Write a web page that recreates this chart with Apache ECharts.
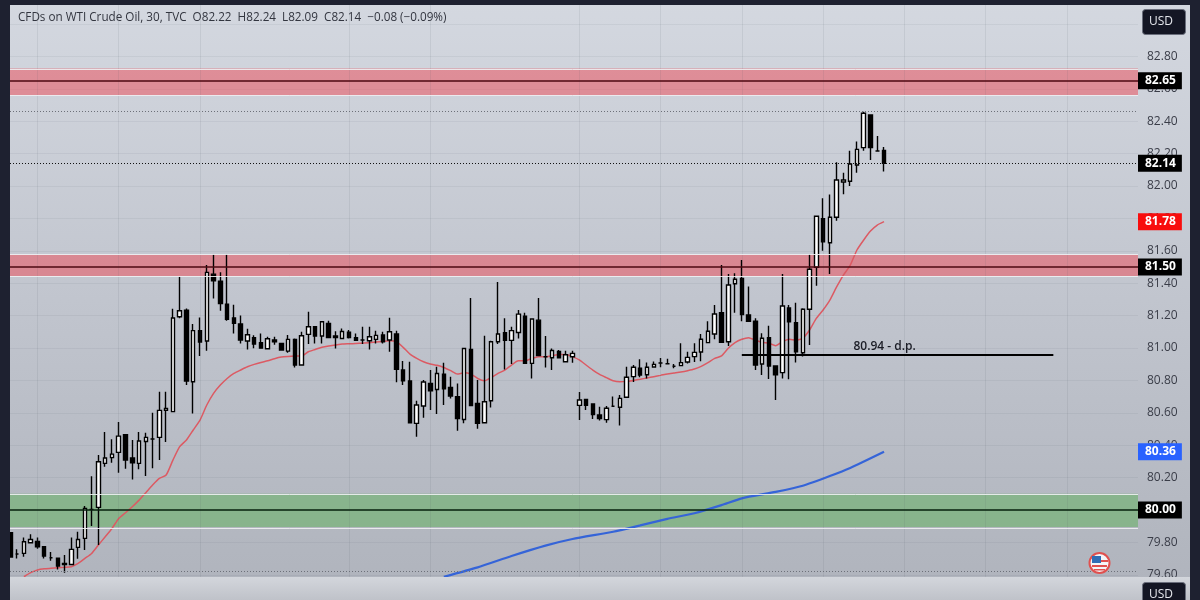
<!DOCTYPE html>
<html><head><meta charset="utf-8">
<style>html,body{margin:0;padding:0;background:#1e2130}#c{width:1200px;height:600px}</style>
<script src="https://cdn.jsdelivr.net/npm/echarts@6/dist/echarts.min.js"></script>
</head><body><div id="c"></div>
<script>
const headerText = 'CFDs on WTI Crude Oil, 30, TVC  O82.22  H82.24  L82.09  C82.14  −0.08 (−0.09%)';
const opens = [79.86,79.728,79.732,79.798,79.806,79.773,79.705,79.703,79.670,79.664,
79.769,79.825,80.004,80.016,80.288,80.323,80.356,80.465,80.321,80.288,
80.423,80.438,80.448,80.615,80.607,81.193,81.234,80.792,81.107,81.043,
81.456,81.413,81.271,81.185,81.148,81.043,81.063,81.032,80.995,81.049,
81.028,80.981,81.053,80.895,81.084,81.131,81.074,81.152,81.074,81.059,
81.098,81.063,81.049,81.045,81.053,81.080,81.049,81.086,80.864,80.796,
80.535,80.642,80.781,80.744,80.839,80.757,80.699,80.559,80.991,80.658,
80.539,80.674,81.039,81.094,81.047,81.096,81.197,80.905,81.172,80.946,
80.940,80.979,80.915,80.946,80.646,80.683,80.654,80.586,80.558,80.640,
80.634,80.696,80.823,80.875,80.835,80.883,80.907,80.903,80.887,80.891,
80.914,80.947,80.975,81.033,81.086,81.218,81.039,81.397,81.430,81.204,
81.165,80.901,81.064,80.889,80.848,81.247,81.156,80.971,81.239,81.498,
81.798,81.650,81.807,82.025,82.029,82.130,82.237,82.438,82.216,82.22];
const closes = [79.71,79.728,79.804,79.818,79.773,79.716,79.705,79.654,79.664,79.757,
79.818,80.010,80.004,80.298,80.321,80.345,80.456,80.308,80.292,80.426,
80.448,80.438,80.615,80.627,81.185,81.230,80.796,81.107,81.037,81.467,
81.415,81.275,81.177,81.152,81.049,81.082,81.024,80.999,81.057,81.039,
80.987,81.053,80.895,81.076,81.131,81.074,81.162,81.065,81.065,81.102,
81.065,81.047,81.049,81.069,81.078,81.039,81.100,80.868,80.798,80.539,
80.648,80.790,80.736,80.843,80.748,80.703,80.565,80.997,80.644,80.535,
80.668,81.039,81.086,81.047,81.107,81.209,80.905,81.179,80.954,80.946,
80.985,80.940,80.958,80.967,80.679,80.646,80.589,80.564,80.628,80.640,
80.689,80.819,80.881,80.833,80.881,80.899,80.907,80.903,80.887,80.910,
80.942,80.973,81.054,81.103,81.210,81.035,81.389,81.424,81.206,81.165,
80.895,81.060,80.889,80.835,81.259,81.161,80.977,81.239,81.486,81.813,
81.656,81.807,82.037,82.037,82.136,82.226,82.449,82.237,82.216,82.14];
const lows = [79.71,79.701,79.712,79.794,79.761,79.701,79.687,79.633,79.613,79.662,
79.699,79.753,79.901,79.784,80.267,80.292,80.230,80.255,80.189,80.251,
80.210,80.257,80.308,80.419,80.605,81.183,80.771,80.596,80.950,80.983,
81.306,81.230,81.168,81.090,81.028,80.991,80.998,80.995,80.991,81.020,
80.983,80.971,80.880,80.893,81.024,81.028,81.028,81.065,80.997,81.055,
81.059,81.043,81.024,80.991,81.028,81.028,80.977,80.788,80.771,80.539,
80.452,80.569,80.617,80.592,80.648,80.689,80.489,80.535,80.640,80.502,
80.535,80.633,81.024,80.868,80.901,81.059,80.901,80.812,80.950,80.880,
80.864,80.936,80.911,80.909,80.555,80.617,80.562,80.552,80.539,80.638,
80.521,80.696,80.790,80.819,80.811,80.881,80.881,80.899,80.875,80.889,
80.905,80.914,80.918,81.029,81.054,81.033,81.012,81.218,81.165,81.163,
80.864,80.833,80.809,80.679,80.811,80.807,80.910,80.947,81.019,81.385,
81.601,81.457,81.786,81.949,82.000,82.082,82.218,82.161,82.212,82.09];
const highs = [79.86,79.757,79.831,79.851,79.831,79.775,79.740,79.705,79.722,79.831,
79.866,80.024,80.209,80.339,80.481,80.436,80.543,80.469,80.432,80.481,
80.477,80.600,80.730,80.730,81.242,81.440,81.244,81.148,81.189,81.512,
81.580,81.467,81.580,81.267,81.201,81.119,81.078,81.090,81.070,81.070,
81.030,81.080,81.059,81.100,81.224,81.133,81.166,81.168,81.104,81.121,
81.111,81.090,81.131,81.131,81.107,81.100,81.187,81.107,80.919,80.915,
80.674,80.802,80.864,80.884,80.909,80.823,80.781,81.000,81.308,80.802,
81.076,81.045,81.407,81.183,81.131,81.234,81.218,81.183,81.308,81.074,
80.997,80.987,80.983,80.983,80.728,80.685,80.658,80.638,80.642,80.700,
80.710,80.885,80.895,80.930,80.910,80.916,80.938,80.934,80.901,81.029,
80.977,81.029,81.086,81.165,81.265,81.512,81.457,81.461,81.543,81.379,
81.183,81.091,81.138,80.889,81.457,81.265,81.280,81.245,81.580,81.815,
81.924,81.947,82.146,82.082,82.218,82.274,82.459,82.440,82.309,82.24];
const emaFast = [null,null,79.588,79.613,79.630,79.637,79.640,79.643,79.646,79.650,
79.670,79.701,79.732,79.784,79.835,79.886,79.948,79.983,80.020,80.061,
80.107,80.154,80.195,80.216,80.308,80.391,80.432,80.494,80.555,80.648,
80.720,80.771,80.812,80.843,80.864,80.884,80.899,80.911,80.921,80.934,
80.944,80.948,80.950,80.950,80.977,80.991,81.004,81.012,81.018,81.024,
81.026,81.028,81.030,81.032,81.037,81.041,81.045,81.039,81.004,80.962,
80.936,80.915,80.901,80.893,80.880,80.860,80.839,80.847,80.839,80.812,
80.798,80.818,80.843,80.864,80.895,80.921,80.921,80.936,80.946,80.946,
80.952,80.960,80.960,80.947,80.926,80.895,80.864,80.837,80.817,80.798,
80.792,80.794,80.800,80.807,80.815,80.823,80.831,80.840,80.846,80.852,
80.860,80.870,80.887,80.910,80.936,80.951,80.998,81.033,81.054,81.064,
81.049,81.035,81.029,81.014,81.039,81.054,81.049,81.060,81.111,81.183,
81.235,81.296,81.377,81.45,81.51,81.605,81.667,81.722,81.759,81.78];
const emaSlowIdx = [64,69,74,79,83,89,93,97,101,105,108,113,117,121,124,129];
const emaSlowVal = [79.588,79.646,79.716,79.780,79.821,79.866,79.905,79.945,79.980,80.03,80.072,80.112,80.150,80.21,80.26,80.36];
const barCount = 167;
const categories = Array.from({length: barCount}, (_, i) => String(i));
const timeGridBars = [4,16,28,50,62,84,96,108,120,132,144,156];
const redBands = [[82.725,82.56],[81.575,81.445]];
const greenBands = [[80.10,79.895]];
const redLevels = [82.65,81.50];
const greenLevels = [80.00];
const dottedLevels = [82.46,82.14,79.62];
const blackTags = [82.65,82.14,81.50,80.00];
const redTag = 81.78, blueTag = 80.36;
const dpLevel = 80.957, dpStart = '108', dpEnd = '154', dpText = '80.94 - d.p.';

const FONT = '"Open Sans", sans-serif';
const candles = opens.map((o, i) => [o, closes[i], lows[i], highs[i]]);
const emaSlow = categories.map(() => null);
emaSlowIdx.forEach((k, i) => { emaSlow[k] = emaSlowVal[i]; });

const tag = (v, bg) => ({
  yAxis: v,
  lineStyle: {color: 'rgba(0,0,0,0)', width: 1, type: 'solid'},
  label: {show: true, position: 'end', distance: 0, formatter: v.toFixed(2), color: '#fff',
    fontWeight: 'bold', fontSize: 12, fontFamily: FONT, backgroundColor: bg, padding: [3, 6, 2, 7]}
});
const edge = v => ({yAxis: v, lineStyle: {color: '#eef0f2', width: 1, type: 'solid', opacity: 0.9}, label: {show: false}});

const levelLines = [
  ...timeGridBars.map(k => ({xAxis: String(k), lineStyle: {color: 'rgba(80,85,100,0.10)', width: 1, type: 'solid'}, label: {show: false}})),
  ...redBands.flat().map(edge),
  ...greenBands.flat().map(edge),
  ...redLevels.map(v => ({yAxis: v, lineStyle: {color: '#4d0810', width: 1.6, type: 'solid'}, label: {show: false}})),
  ...greenLevels.map(v => ({yAxis: v, lineStyle: {color: '#06200c', width: 1.6, type: 'solid'}, label: {show: false}})),
  ...dottedLevels.map((v, i) => ({yAxis: v, lineStyle: {color: v === 82.14 ? '#111' : '#6d7079', width: 1, type: [1, 2]}, label: {show: false}})),
  [{xAxis: dpStart, yAxis: dpLevel, lineStyle: {color: '#000', width: 2, type: 'solid'},
    label: {show: true, position: 'insideMiddleTop', distance: 2, offset: [-13, 0], formatter: dpText,
      color: '#1b1d26', fontFamily: FONT, fontSize: 12, fontWeight: 600}},
   {xAxis: dpEnd, yAxis: dpLevel}]
];
const tagLines = [...blackTags.map(v => tag(v, '#000')), tag(redTag, '#f80d0d'), tag(blueTag, '#2962ff')];

const bg = {type: 'linear', x: 0, y: 0, x2: 0, y2: 1, colorStops: [
  {offset: 0, color: '#d4d8e0'}, {offset: 0.5, color: '#c1c5ce'}, {offset: 1, color: '#afb3bc'}]};

const option = {
  animation: false,
  backgroundColor: bg,
  title: {text: headerText, left: 18, top: 12, padding: 0,
    textStyle: {fontSize: 11.7, fontWeight: 'normal', color: '#32353f', fontFamily: FONT}},
  grid: {left: 7, width: 1131, top: -8.4, height: 615.6, containLabel: false, outerBoundsMode: 'none'},
  xAxis: {type: 'category', data: categories, boundaryGap: true, show: false},
  yAxis: {type: 'value', min: 79.4, max: 83.2, interval: 0.2, position: 'right',
    axisLine: {show: false}, axisTick: {show: false},
    axisLabel: {margin: 9, formatter: v => v.toFixed(2), color: '#3a3d48', fontSize: 12, fontFamily: FONT},
    splitLine: {show: true, lineStyle: {color: 'rgba(80,85,100,0.08)', width: 1}}},
  series: [
    {name: 'levels', type: 'line', z: 2, data: categories.map(() => null), silent: true, showSymbol: false,
      markArea: {silent: true, z: 1, data: [
        ...redBands.map(b => [{yAxis: b[0], itemStyle: {color: 'rgba(237,71,83,0.5)'}}, {yAxis: b[1]}]),
        ...greenBands.map(b => [{yAxis: b[0], itemStyle: {color: 'rgba(96,176,92,0.52)'}}, {yAxis: b[1]}])
      ]},
      markLine: {silent: true, symbol: 'none', animation: false, data: levelLines}},
    {name: 'EMA fast', type: 'line', z: 3, data: emaFast, showSymbol: false, smooth: 0.2, connectNulls: false,
      lineStyle: {color: '#dc5a63', width: 1.5}},
    {name: 'EMA slow', type: 'line', z: 3, data: emaSlow, showSymbol: false, smooth: 0.2, connectNulls: true,
      lineStyle: {color: '#3564d8', width: 2.2}},
    {name: 'WTI', type: 'candlestick', z: 4, data: candles, barWidth: 4,
      itemStyle: {color: '#fff', color0: '#000', borderColor: '#000', borderColor0: '#000', borderWidth: 1.4}},
    {name: 'tags', type: 'line', z: 6, data: categories.map(() => null), silent: true, showSymbol: false,
      markLine: {silent: true, symbol: 'none', animation: false, data: tagLines}}
  ],
  graphic: {elements: [
    {type: 'rect', z: 100, shape: {x: 0, y: 577, width: 1200, height: 23},
      style: {fill: {type: 'linear', x: 0, y: 0, x2: 0, y2: 1, colorStops: [{offset: 0, color: '#d3d6dc'}, {offset: 1, color: '#bfc2c9'}]}}},
    {type: 'rect', z: 101, shape: {x: 0, y: 0, width: 10, height: 600}, style: {fill: '#1e2130'}},
    {type: 'rect', z: 101, shape: {x: 0, y: 0, width: 1200, height: 5}, style: {fill: '#1e2130'}},
    {type: 'rect', z: 101, shape: {x: 1190, y: 0, width: 10, height: 600}, style: {fill: '#1e2130'}},
    {type: 'rect', z: 102, shape: {x: 1142.5, y: 9.5, width: 43, height: 25, r: 3}, style: {fill: '#141624', stroke: '#6a6e7c', lineWidth: 1}},
    {type: 'text', z: 103, x: 1161, y: 22, style: {text: 'USD', fill: '#e4e6ec', font: '12px ' + FONT, align: 'center', verticalAlign: 'middle'}},
    {type: 'rect', z: 102, shape: {x: 1142.5, y: 582.5, width: 43, height: 25, r: 3}, style: {fill: '#141624', stroke: '#6a6e7c', lineWidth: 1}},
    {type: 'text', z: 103, x: 1161, y: 595, style: {text: 'USD', fill: '#e4e6ec', font: '12px ' + FONT, align: 'center', verticalAlign: 'middle'}},
    {type: 'circle', z: 90, shape: {cx: 1099.5, cy: 563, r: 10}, style: {fill: '#f4f5f7', stroke: '#e0514f', lineWidth: 2}},
    {type: 'rect', z: 91, shape: {x: 1092, y: 556, width: 9, height: 7}, style: {fill: '#2f6db5'}},
    {type: 'rect', z: 91, shape: {x: 1101, y: 560, width: 7, height: 2}, style: {fill: '#e0514f'}},
    {type: 'rect', z: 91, shape: {x: 1092, y: 565, width: 15, height: 2}, style: {fill: '#e0514f'}},
    {type: 'rect', z: 91, shape: {x: 1094, y: 569, width: 11, height: 1.5}, style: {fill: '#e0514f'}}
  ]}
};
const chart = echarts.init(document.getElementById('c'), null, {renderer: 'canvas'});
chart.setOption(option);
</script></body></html>
